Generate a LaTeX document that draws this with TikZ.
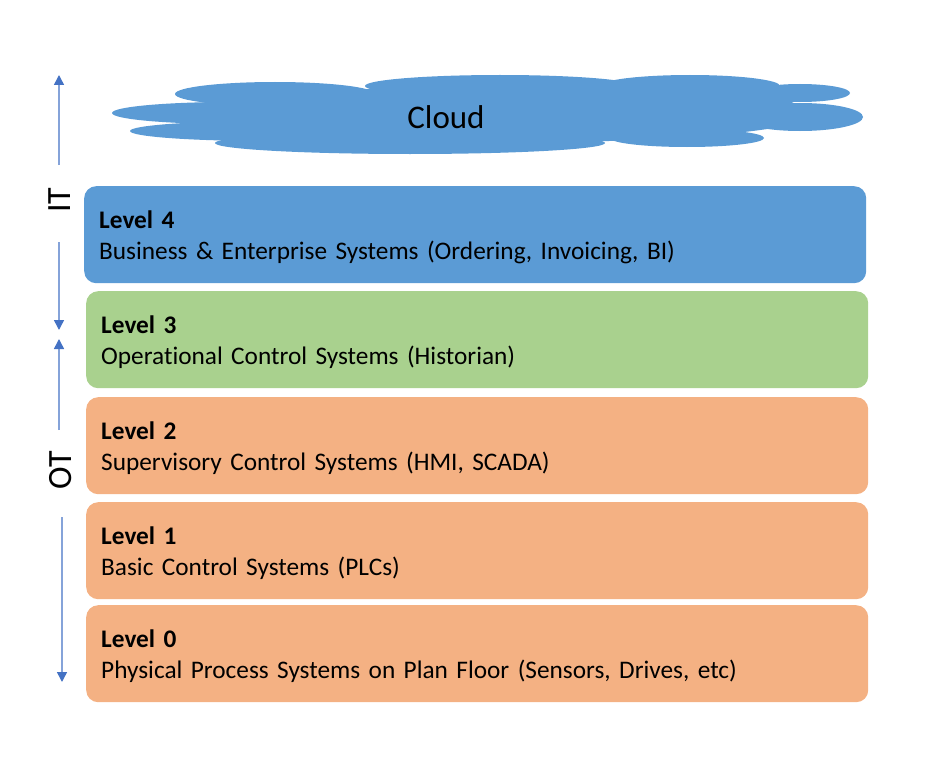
\documentclass[tikz,border=0pt]{standalone}
\usepackage{fontspec}
\setmainfont{Carlito}[Ligatures=NoCommon]
\usetikzlibrary{arrows.meta, positioning}

\definecolor{itblue}{RGB}{91,155,213}
\definecolor{opgreen}{RGB}{169,209,142}
\definecolor{otorange}{RGB}{244,177,131}
\definecolor{arrowblue}{RGB}{68,114,196}

\begin{document}
\begin{tikzpicture}[
    x=1pt, y=-1pt,
    levelbox/.style={rectangle, rounded corners=12pt, anchor=north west, minimum width=782pt, minimum height=97pt, text width=752pt, inner xsep=15pt, align=left, font=\fontsize{25.3}{31}\selectfont, execute at begin node={\rule{0pt}{22pt}}},
    lobe/.style={fill=itblue, draw=none},
    sidelabel/.style={rotate=90, font=\fontsize{34}{40}\selectfont},
    axisarrow/.style={-{Triangle[length=10pt, width=10pt, color=arrowblue]}, line width=1.5pt, draw=arrowblue!65}
]
\useasboundingbox (0,0) rectangle (925,773);

% cloud
\fill[lobe] (230,113) ellipse [x radius=118pt, y radius=11pt];
\fill[lobe] (265,131) ellipse [x radius=135pt, y radius=10pt];
\fill[lobe] (410,143) ellipse [x radius=195pt, y radius=11pt];
\fill[lobe] (687,138) ellipse [x radius=77pt, y radius=9pt];
\fill[lobe] (800,117) ellipse [x radius=63pt, y radius=14pt];
\fill[lobe] (800,93) ellipse [x radius=50pt, y radius=9pt];
\fill[lobe] (690,86) ellipse [x radius=90pt, y radius=11pt];
\fill[lobe] (500,86) ellipse [x radius=135pt, y radius=11pt];
\fill[lobe] (275,94) ellipse [x radius=100pt, y radius=12pt];
\fill[lobe] (700,110) ellipse [x radius=100pt, y radius=20pt];
\fill[lobe] (490,115) ellipse [x radius=320pt, y radius=28pt];
\node[font=\fontsize{33}{40}\selectfont] (cloud) at (446,117) {Cloud};

% levels
\node[levelbox, fill=itblue] (lvl4) at (84,186) {\textbf{Level 4}\\Business \& Enterprise Systems (Ordering, Invoicing, BI)};
\node[levelbox, fill=opgreen] (lvl3) at (86,291) {\textbf{Level 3}\\Operational Control Systems (Historian)};
\node[levelbox, fill=otorange] (lvl2) at (86,397) {\textbf{Level 2}\\Supervisory Control Systems (HMI, SCADA)};
\node[levelbox, fill=otorange] (lvl1) at (86,502) {\textbf{Level 1}\\Basic Control Systems (PLCs)};
\node[levelbox, fill=otorange] (lvl0) at (86,605) {\textbf{Level 0}\\Physical Process Systems on Plan Floor (Sensors, Drives, etc)};

% IT / OT
\node[sidelabel] (itlabel) at (60,200) {IT};
\node[sidelabel] (otlabel) at (61,470) {OT};

\coordinate (ittopstart) at (59,165);
\coordinate (ittop) at (59,75);
\coordinate (itbotstart) at (59,242);
\coordinate (itbot) at (59,330);
\coordinate (ottopstart) at (59,430);
\coordinate (ottop) at (59,339);
\coordinate (otbotstart) at (62,517);
\coordinate (otbot) at (62,682);

\draw[axisarrow] (ittopstart) -- (ittop);
\draw[axisarrow] (itbotstart) -- (itbot);
\draw[axisarrow] (ottopstart) -- (ottop);
\draw[axisarrow] (otbotstart) -- (otbot);
\end{tikzpicture}
\end{document}
